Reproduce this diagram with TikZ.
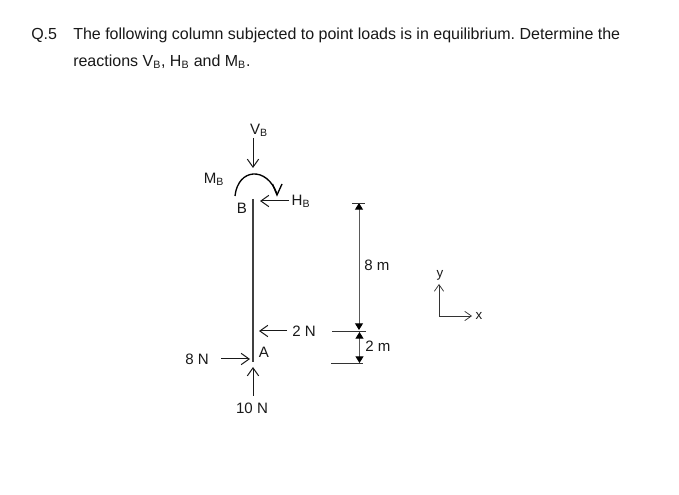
\documentclass[tikz,border=0pt]{standalone}
\usepackage{fontspec}
\setmainfont{Liberation Sans}
\usetikzlibrary{arrows.meta}
\tikzset{
  x=0.75pt,y=-0.75pt,
  lbl/.style={inner sep=0pt,font=\fontsize{11.3}{13}\selectfont,text=black!90},
  para/.style={inner sep=0pt,anchor=base west,font=\fontsize{12}{14}\selectfont\frenchspacing,text=black!90},
  force/.style={draw=black!90,line width=0.75pt,-{Straight Barb[length=6pt,width=8.5pt,line width=0.75pt]}},
  dimline/.style={draw=black!65,line width=0.7pt,{Triangle[length=5pt,width=6pt,black]}-{Triangle[length=5pt,width=6pt,black]}},
  tick/.style={draw=black!80,line width=0.6pt},
  axis/.style={draw=black!80,line width=0.55pt,-{Straight Barb[length=5pt,width=7pt,line width=0.55pt]}},
}
\newcommand{\sB}{\textsubscript{B}}
\begin{document}
\begin{tikzpicture}
\useasboundingbox[fill=white] (0,0) rectangle (679,495);
\node[para] (qnum) at (31,39.5) {Q.5};
\node[para] (line1) at (73,39.5) {The following column subjected to point loads is in equilibrium. Determine the};
\node[para] (line2) at (73,66.5) {reactions V\sB, H\sB\ and M\sB.};
% column
\coordinate (B) at (253,199);
\coordinate (A) at (253,362);
\draw[draw=black!75,line width=1.6pt] (B) -- (A);
% top
\node[lbl] (vb) at (259,130) {V\sB};
\coordinate (vbs) at (253,138);
\coordinate (vbe) at (253,168);
\draw[force] (vbs) -- (vbe);
\node[lbl] (mb) at (214,179) {M\sB};
\coordinate (ms) at (235,196);
\coordinate (me) at (277,194);
\draw[draw=black,line width=1pt] (ms) .. controls (238,168) and (267,166) .. (me);
\draw[draw=black,line width=1pt] (272.5,184) -- (277,195) -- (282,184);
\node[lbl] (blab) at (242,208) {B};
\node[lbl] (hb) at (301,201) {H\sB};
\coordinate (hbs) at (289,201);
\coordinate (hbe) at (260,201);
\draw[force] (hbs) -- (hbe);
% bottom
\node[lbl] (two) at (304,331) {2 N};
\coordinate (ts) at (287,331);
\coordinate (te) at (259,331);
\draw[force] (ts) -- (te);
\node[lbl] (alab) at (264,352) {A};
\node[lbl] (eight) at (197,359) {8 N};
\coordinate (es) at (221,359);
\coordinate (ee) at (250,359);
\draw[force] (es) -- (ee);
\node[lbl] (ten) at (252,408) {10 N};
\coordinate (us) at (253,396);
\coordinate (ue) at (253,367);
\draw[force] (us) -- (ue);
% dimensions
\coordinate (d1) at (359,203);
\coordinate (d2) at (359,330);
\coordinate (d3) at (359.5,332);
\coordinate (d4) at (359.5,363);
\draw[dimline] (d1) -- (d2);
\draw[dimline] (d3) -- (d4);
\coordinate (t1a) at (352,203); \coordinate (t1b) at (365,203);
\coordinate (t2a) at (332,331); \coordinate (t2b) at (366,331);
\coordinate (t3a) at (331,363); \coordinate (t3b) at (363,363);
\draw[tick] (t1a) -- (t1b);
\draw[tick] (t2a) -- (t2b);
\draw[tick] (t3a) -- (t3b);
\node[lbl] (em) at (377,265) {8 m};
\node[lbl] (tm) at (378,346) {2 m};
% axes
\coordinate (o) at (439,316);
\coordinate (ox) at (472,316);
\coordinate (oy) at (439,284);
\draw[axis] (o) -- (ox);
\draw[axis] (o) -- (oy);
\node[lbl,font=\fontsize{10}{12}\selectfont] (ylab) at (440,275) {y};
\node[lbl,font=\fontsize{10}{12}\selectfont] (xlab) at (479,316) {x};
\end{tikzpicture}
\end{document}
